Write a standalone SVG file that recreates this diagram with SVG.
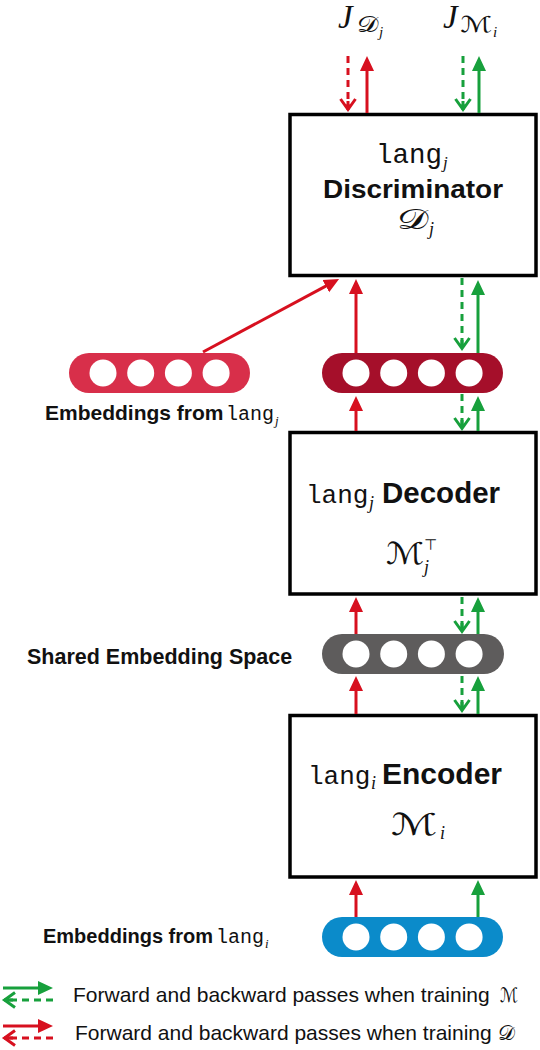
<svg xmlns="http://www.w3.org/2000/svg" xmlns:xlink="http://www.w3.org/1999/xlink" width="540" height="1050" viewBox="0 0 540 1050">
<style>
.box{fill:#fff;stroke:#000;stroke-width:3.5}
.bold{font-family:"Liberation Sans",Arial,sans-serif;font-weight:bold;fill:#111}
.mono{font-family:"Liberation Mono","Courier New",monospace;fill:#111}
.mi{font-family:"Liberation Serif","Times New Roman",serif;font-style:italic;fill:#111}
.cal{font-family:"DejaVu Sans","DejaVu Serif","Noto Sans",serif;fill:#111}
.leg{font-family:"Liberation Sans",Arial,sans-serif;font-size:21px;fill:#111}
.r{stroke:#d7101f;stroke-width:3;fill:none}
.g{stroke:#17a03c;stroke-width:3;fill:none}
.ds{stroke-dasharray:7 5}
.rs{marker-end:url(#ahr)}
.gs{marker-end:url(#ahg)}
.rd{marker-end:url(#chr)}
.gd{marker-end:url(#chg)}
.dot{fill:#fff}
</style>
<defs>
<marker id="ahr" markerUnits="userSpaceOnUse" viewBox="0 -8 16 16" markerWidth="16" markerHeight="16" refX="1" refY="0" orient="auto"><path d="M0,-7 L15,0 L0,7 z" fill="#d7101f"/></marker>
<marker id="ahg" markerUnits="userSpaceOnUse" viewBox="0 -8 16 16" markerWidth="16" markerHeight="16" refX="1" refY="0" orient="auto"><path d="M0,-7 L15,0 L0,7 z" fill="#17a03c"/></marker>
<marker id="chr" markerUnits="userSpaceOnUse" viewBox="-15 -10 19 20" markerWidth="19" markerHeight="20" refX="0" refY="0" orient="auto" style="overflow:visible"><path d="M-11,-7.5 L-0.5,0 L-11,7.5 M0,0 L-9,0" fill="none" stroke="#d7101f" stroke-width="3"/></marker>
<marker id="chg" markerUnits="userSpaceOnUse" viewBox="-15 -10 19 20" markerWidth="19" markerHeight="20" refX="0" refY="0" orient="auto" style="overflow:visible"><path d="M-11,-7.5 L-0.5,0 L-11,7.5 M0,0 L-9,0" fill="none" stroke="#17a03c" stroke-width="3"/></marker>
<g id="dots"><circle class="dot" cx="0" cy="0" r="13.5"/><circle class="dot" cx="37.7" cy="0" r="13.5"/><circle class="dot" cx="75.4" cy="0" r="13.5"/><circle class="dot" cx="113.1" cy="0" r="13.5"/></g>
</defs>
<rect width="540" height="1050" fill="#fff"/>

<g id="objective-D">
<text class="mi" x="338" y="28" font-size="33">J</text>
<text class="cal" x="357" y="32" font-size="22" textLength="22" lengthAdjust="spacingAndGlyphs">𝒟</text>
<text class="mi" x="379" y="37" font-size="15">j</text>
</g>
<g id="objective-M">
<text class="mi" x="443" y="28" font-size="33">J</text>
<text class="cal" x="460" y="32" font-size="22" textLength="32" lengthAdjust="spacingAndGlyphs">ℳ</text>
<text class="mi" x="493" y="37" font-size="15">i</text>
</g>

<g id="discriminator">
<rect class="box" x="290" y="114.5" width="246" height="161"/>
<text class="mono" x="376" y="163" font-size="27.5">lang</text>
<text class="mi" x="443" y="168" font-size="17">j</text>
<text class="bold" x="413" y="198" font-size="26" text-anchor="middle" textLength="180" lengthAdjust="spacingAndGlyphs">Discriminator</text>
<text class="cal" x="397" y="229" font-size="28" textLength="31" lengthAdjust="spacingAndGlyphs">𝒟</text>
<text class="mi" x="429" y="235" font-size="18">j</text>
</g>

<g id="emb-lang-j">
<rect x="69" y="353" width="181" height="40" rx="20" fill="#d82f4a"/>
<use xlink:href="#dots" x="103" y="373"/>
<text class="bold" x="45" y="420" font-size="21">Embeddings from</text>
<text class="mono" x="226" y="420" font-size="20">lang</text>
<text class="mi" x="275" y="425" font-size="13">j</text>
</g>

<g id="decoder-output">
<rect x="322" y="353" width="181" height="40" rx="20" fill="#a50f2a"/>
<use xlink:href="#dots" x="356" y="373"/>
</g>

<g id="decoder">
<rect class="box" x="290" y="432.5" width="246" height="161.5"/>
<text class="mono" x="306" y="503" font-size="26">lang</text>
<text class="mi" x="369" y="509" font-size="18">j</text>
<text class="bold" x="382" y="503" font-size="29.5">Decoder</text>
<text class="cal" x="386" y="564" font-size="30" textLength="38" lengthAdjust="spacingAndGlyphs">ℳ</text>
<text class="cal" x="424" y="550" font-size="15">⊤</text>
<text class="mi" x="424" y="573" font-size="18">j</text>
</g>

<g id="shared-space">
<rect x="322" y="634" width="182" height="40" rx="20" fill="#5e5c5c"/>
<use xlink:href="#dots" x="356" y="654"/>
<text class="bold" x="27" y="664" font-size="21.5">Shared Embedding Space</text>
</g>

<g id="encoder">
<rect class="box" x="290" y="715.5" width="246" height="161.5"/>
<text class="mono" x="308" y="784" font-size="26">lang</text>
<text class="mi" x="371" y="789" font-size="18">i</text>
<text class="bold" x="382" y="784" font-size="30">Encoder</text>
<text class="cal" x="391" y="835" font-size="30" textLength="46" lengthAdjust="spacingAndGlyphs">ℳ</text>
<text class="mi" x="440" y="839" font-size="18">i</text>
</g>

<g id="emb-lang-i">
<rect x="322" y="917" width="181" height="40" rx="20" fill="#0b8bca"/>
<use xlink:href="#dots" x="356" y="937"/>
<text class="bold" x="43" y="943" font-size="20">Embeddings from</text>
<text class="mono" x="216" y="943" font-size="20">lang</text>
<text class="mi" x="265" y="948" font-size="13">i</text>
</g>

<g id="connectors">
<line class="r ds rd" x1="348" y1="56" x2="348" y2="110"/>
<line class="r rs" x1="367" y1="113" x2="367" y2="70"/>
<line class="g ds gd" x1="463" y1="56" x2="463" y2="110"/>
<line class="g gs" x1="479" y1="113" x2="479" y2="70"/>

<line class="r rs" x1="203" y1="352" x2="326.7" y2="285.6"/>
<line class="r rs" x1="356" y1="353" x2="356" y2="293"/>
<line class="g ds gd" x1="462" y1="278" x2="462" y2="349"/>
<line class="g gs" x1="478" y1="353" x2="478" y2="294"/>

<line class="r rs" x1="356" y1="431" x2="356" y2="410"/>
<line class="g ds gd" x1="462" y1="394" x2="462" y2="429"/>
<line class="g gs" x1="478" y1="431" x2="478" y2="410"/>

<line class="r rs" x1="356" y1="634" x2="356" y2="611"/>
<line class="g ds gd" x1="462" y1="597" x2="462" y2="632"/>
<line class="g gs" x1="478" y1="634" x2="478" y2="611"/>

<line class="r rs" x1="356" y1="714" x2="356" y2="690"/>
<line class="g ds gd" x1="462" y1="676" x2="462" y2="711"/>
<line class="g gs" x1="478" y1="714" x2="478" y2="690"/>

<line class="r rs" x1="356" y1="917" x2="356" y2="894"/>
<line class="g gs" x1="478" y1="917" x2="478" y2="894"/>
</g>

<g id="legend">
<line class="g gs" x1="3" y1="988" x2="39" y2="988"/>
<line class="g ds gd" x1="53" y1="1000" x2="4" y2="1000"/>
<text class="leg" x="73" y="1002">Forward and backward passes when training</text>
<text class="cal" x="500" y="1002" font-size="20" textLength="18" lengthAdjust="spacingAndGlyphs">ℳ</text>
<line class="r rs" x1="3" y1="1026" x2="39" y2="1026"/>
<line class="r ds rd" x1="53" y1="1038" x2="4" y2="1038"/>
<text class="leg" x="75" y="1040">Forward and backward passes when training</text>
<text class="cal" x="498" y="1040" font-size="20" textLength="17" lengthAdjust="spacingAndGlyphs">𝒟</text>
</g>
</svg>
